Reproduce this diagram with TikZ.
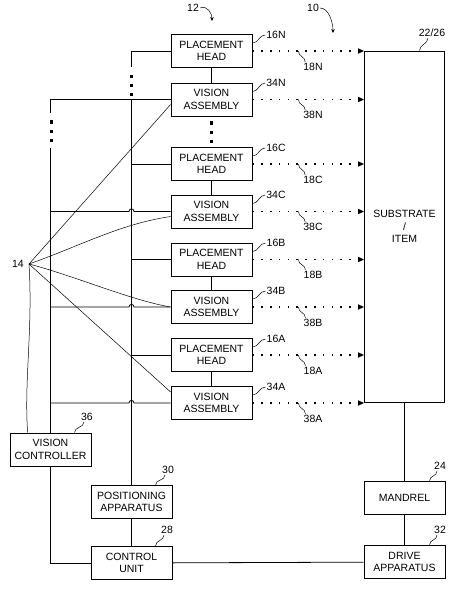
\documentclass[tikz,border=0pt]{standalone}
\usepackage{fontspec}
\setmainfont{Liberation Sans}
\usetikzlibrary{arrows.meta,calc}
\newcommand{\bx}[0] {211.5}
\newcommand{\rx}[0] {404.5}

\begin{document}
\begin{tikzpicture}[x=1pt, y=-1pt, font=\fontsize{10.5}{12.5}\selectfont,
    blk/.style={draw, line width=0.8pt, minimum width=81, minimum height=33, align=center, inner sep=1pt},
    wire/.style={line width=0.8pt},
    beam/.style={line width=1.3pt, dash pattern=on 1.6pt off 7.2pt, -{Triangle[length=6pt,width=5pt]}},
    lead/.style={line width=0.5pt},
    num/.style={inner sep=1pt}]
        \useasboundingbox (0,0) rectangle (474,599);

        \node[blk] (phN) at (\bx, 51)     {PLACEMENT\\HEAD};
        \node[blk] (vaN) at (\bx, 99.5)   {VISION\\ASSEMBLY};
        \node[blk] (phC) at (\bx, 164)    {PLACEMENT\\HEAD};
        \node[blk] (vaC) at (\bx, 211.5)  {VISION\\ASSEMBLY};
        \node[blk] (phB) at (\bx, 259.5)  {PLACEMENT\\HEAD};
        \node[blk] (vaB) at (\bx, 307)    {VISION\\ASSEMBLY};
        \node[blk] (phA) at (\bx, 355)    {PLACEMENT\\HEAD};
        \node[blk] (vaA) at (\bx, 403)    {VISION\\ASSEMBLY};
        \node[blk, minimum width=80, minimum height=351] (sub) at (\rx, 226.5) {SUBSTRATE\\/\\ITEM};
        \node[blk] (vc) at (50.5, 449.5)  {VISION\\CONTROLLER};
        \node[blk] (pa) at (131.5, 502)   {POSITIONING\\APPARATUS};
        \node[blk] (cu) at (131.5, 563)   {CONTROL\\UNIT};
        \node[blk] (man) at (\rx, 498)    {MANDREL};
        \node[blk] (da) at (\rx, 562)     {DRIVE\\APPARATUS};

        %heads and vision assemblies
        \path[wire] (phN) edge (vaN);
        \path[wire] (phC) edge (vaC);
        \path[wire] (phB) edge (vaB);
        \path[wire] (phA) edge (vaA);

        %beams onto the substrate
        \path[beam] (phN.east) edge (phN.east -| sub.west);
        \path[beam] (vaN.east) edge (vaN.east -| sub.west);
        \path[beam] (phC.east) edge (phC.east -| sub.west);
        \path[beam] (vaC.east) edge (vaC.east -| sub.west);
        \path[beam] (phB.east) edge (phB.east -| sub.west);
        \path[beam] (vaB.east) edge (vaB.east -| sub.west);
        \path[beam] (phA.east) edge (phA.east -| sub.west);
        \path[beam] (vaA.east) edge (vaA.east -| sub.west);

        %positioning bus
        \draw[wire] (phN.west) -- (phN.west -| pa.north) -- ++(0,16);
        \draw[wire] (pa.north) -- (pa.north |- vaN.west);
        \draw[wire] (phC.west) -- (phC.west -| pa.north);
        \draw[wire] (phB.west) -- (phB.west -| pa.north);
        \draw[wire] (phA.west) -- (phA.west -| pa.north);

        %vision bus
        \draw[wire] (vaN.west) -- (vaN.west -| vc.north) -- ++(0,14);
        \draw[wire] (vc.north) -- ($(vc.north |- vaN.west)+(0,48)$);
        \draw[wire] (vaC.west) -- ($(vaC.west -| pa.north)+(2.5,0)$) .. controls +(0,-3.4) and +(0,-3.4) .. ($(vaC.west -| pa.north)+(-2.5,0)$) -- (vaC.west -| vc.north);
        \draw[wire] (vaB.west) -- ($(vaB.west -| pa.north)+(2.5,0)$) .. controls +(0,-3.4) and +(0,-3.4) .. ($(vaB.west -| pa.north)+(-2.5,0)$) -- (vaB.west -| vc.north);
        \draw[wire] (vaA.west) -- ($(vaA.west -| pa.north)+(2.5,0)$) .. controls +(0,-3.4) and +(0,-3.4) .. ($(vaA.west -| pa.north)+(-2.5,0)$) -- (vaA.west -| vc.north);

        %dots
        \fill (129.5,75.5) rectangle +(3,3);  \fill (129.5,84.5) rectangle +(3,3);  \fill (129.5,93.5) rectangle +(3,3);
        \fill (49.5,120.5) rectangle +(3,3);  \fill (49.5,129.5) rectangle +(3,3);  \fill (49.5,138.5) rectangle +(3,3);
        \fill (210,121.5) rectangle +(3,3);   \fill (210,130.5) rectangle +(3,3);   \fill (210,139.5) rectangle +(3,3);

        %lower part
        \draw[wire] (vc.south) |- (cu.west);
        \path[wire] (pa) edge (cu);
        \path[wire] (cu) edge (da);
        \path[wire] (sub) edge (man);
        \path[wire] (man) edge (da);

        %numbers of the heads and assemblies
        \node[num] (l16n) at (276, 35)  {16N};
        \node[num] (l34n) at (276, 83)  {34N};
        \node[num] (l16c) at (276, 148) {16C};
        \node[num] (l34c) at (276, 195) {34C};
        \node[num] (l16b) at (276, 243) {16B};
        \node[num] (l34b) at (276, 291) {34B};
        \node[num] (l16a) at (276, 339) {16A};
        \node[num] (l34a) at (276, 387) {34A};
        \draw[lead] ($(phN.north east)+(0,9)$) .. controls +(6,0) and +(-6,0) .. (l16n.west);
        \draw[lead] ($(vaN.north east)+(0,9)$) .. controls +(6,0) and +(-6,0) .. (l34n.west);
        \draw[lead] ($(phC.north east)+(0,9)$) .. controls +(6,0) and +(-6,0) .. (l16c.west);
        \draw[lead] ($(vaC.north east)+(0,9)$) .. controls +(6,0) and +(-6,0) .. (l34c.west);
        \draw[lead] ($(phB.north east)+(0,9)$) .. controls +(6,0) and +(-6,0) .. (l16b.west);
        \draw[lead] ($(vaB.north east)+(0,9)$) .. controls +(6,0) and +(-6,0) .. (l34b.west);
        \draw[lead] ($(phA.north east)+(0,9)$) .. controls +(6,0) and +(-6,0) .. (l16a.west);
        \draw[lead] ($(vaA.north east)+(0,9)$) .. controls +(6,0) and +(-6,0) .. (l34a.west);

        %numbers of the beams
        \node[num] (l18n) at (313, 67)  {18N};
        \node[num] (l38n) at (313, 115) {38N};
        \node[num] (l18c) at (313, 180) {18C};
        \node[num] (l38c) at (313, 227) {38C};
        \node[num] (l18b) at (313, 275) {18B};
        \node[num] (l38b) at (313, 323) {38B};
        \node[num] (l18a) at (313, 371) {18A};
        \node[num] (l38a) at (313, 419) {38A};
        \draw[lead] ($(phN.east)+(46,0)$) .. controls +(0,6) and +(0,-6) .. ($(l18n.north west)+(3,0)$);
        \draw[lead] ($(vaN.east)+(46,0)$) .. controls +(0,6) and +(0,-6) .. ($(l38n.north west)+(3,0)$);
        \draw[lead] ($(phC.east)+(46,0)$) .. controls +(0,6) and +(0,-6) .. ($(l18c.north west)+(3,0)$);
        \draw[lead] ($(vaC.east)+(46,0)$) .. controls +(0,6) and +(0,-6) .. ($(l38c.north west)+(3,0)$);
        \draw[lead] ($(phB.east)+(46,0)$) .. controls +(0,6) and +(0,-6) .. ($(l18b.north west)+(3,0)$);
        \draw[lead] ($(vaB.east)+(46,0)$) .. controls +(0,6) and +(0,-6) .. ($(l38b.north west)+(3,0)$);
        \draw[lead] ($(phA.east)+(46,0)$) .. controls +(0,6) and +(0,-6) .. ($(l18a.north west)+(3,0)$);
        \draw[lead] ($(vaA.east)+(46,0)$) .. controls +(0,6) and +(0,-6) .. ($(l38a.north west)+(3,0)$);

        %numbers of the other blocks
        \node[num] (l2226) at (432, 33) {22/26};
        \node[num] (l24) at (440, 466)  {24};
        \node[num] (l32) at (440, 530)  {32};
        \node[num] (l28) at (167, 530)  {28};
        \node[num] (l30) at (168, 470)  {30};
        \node[num] (l36) at (87, 417)   {36};
        \draw[lead] ($(sub.north)+(15,0)$) .. controls +(0,-6) and +(0,6) .. ($(l2226.south)+(-4,0)$);
        \draw[lead] ($(man.north)+(25,0)$) .. controls +(0,-6) and +(0,6) .. ($(l24.south)+(-3,0)$);
        \draw[lead] ($(da.north)+(25,0)$) .. controls +(0,-6) and +(0,6) .. ($(l32.south)+(-3,0)$);
        \draw[lead] ($(cu.north)+(24,0)$) .. controls +(0,-6) and +(0,6) .. ($(l28.south)+(-3,0)$);
        \draw[lead] ($(pa.north)+(24,0)$) .. controls +(0,-6) and +(0,6) .. ($(l30.south)+(-3,0)$);
        \draw[lead] ($(vc.north)+(24,0)$) .. controls +(0,-6) and +(0,6) .. ($(l36.south)+(-3,0)$);

        %vision leads
        \node[num] (l14) at (18, 264) {14};
        \coordinate (hub) at (29, 264);
        \draw[lead] (hub) -- ($(vaN.west)+(0,5)$);
        \draw[lead] (hub) .. controls (80,246) and (120,224) .. ($(vaC.west)+(0,5)$);
        \draw[lead] (hub) .. controls (75,276) and (130,300) .. (vaB.west);
        \draw[lead] (hub) -- ($(vaA.west)+(0,-11)$);
        \draw[lead] (hub) .. controls (33,330) and (24,380) .. ($(vc.north west)+(18,0)$);

        %whole machine
        \node[num] (l12) at (193, 8) {12};
        \node[num] (l10) at (313, 8) {10};
        \coordinate (p12) at (212, 21);
        \coordinate (p10) at (333, 33);
        \draw[lead, -{Stealth[length=4pt,width=3.5pt]}] (l12.east) .. controls +(8,-3) and +(0,-7) .. (p12);
        \draw[lead, -{Stealth[length=4pt,width=3.5pt]}] (l10.east) .. controls +(9,0) and +(0,-10) .. (p10);
\end{tikzpicture}
\end{document}
